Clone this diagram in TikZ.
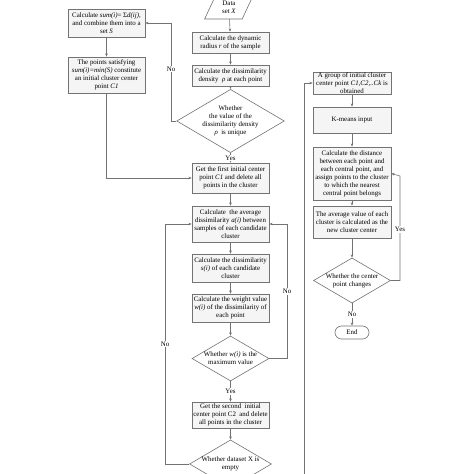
\documentclass[tikz,border=0pt]{standalone}
\usepackage{fontspec}
\setmainfont{Liberation Serif}
\usetikzlibrary{shapes.geometric,shapes.misc,arrows.meta,shadows}
\begin{document}
\begin{tikzpicture}[x=1pt,y=-1pt,
  font=\fontsize{6.9}{8}\selectfont,
  line/.style={draw=black!55, line width=0.6pt},
  arr/.style={line, -{Stealth[length=3.2pt,width=2.6pt]}},
  boxs/.style={rectangle, draw=black!55, line width=0.6pt, fill=black!4, align=center, inner sep=0.5pt,
    minimum width=77pt, drop shadow={shadow xshift=0.8pt, shadow yshift=-0.8pt, fill=black!30, opacity=0.6}},
  dia/.style={diamond, draw=black!55, line width=0.6pt, fill=white, align=center, inner sep=0pt, aspect=1.7,
    minimum width=77pt, minimum height=45pt},
  lab/.style={fill=white, inner sep=1pt}
]
\useasboundingbox (0,0) rectangle (474,474);
\begin{scope}
\clip (0,0) rectangle (474,474);
% data
\node[trapezium, trapezium left angle=65, trapezium right angle=115, draw=black!55, line width=0.6pt, fill=white,
  align=center, minimum width=34pt, minimum height=24pt, inner sep=0pt] (data) at (229,7) {Data\\ set \textit{X}};
% main column
\node[boxs, minimum height=21pt] (m1) at (230.5,42.5) {Calculate the dynamic\\ radius \textit{r} of the sample};
\node[boxs, minimum height=21pt] (m2) at (230.5,75.5) {Calculate the dissimilarity\\ density\ \ \textit{ρ} at each point};
\node[dia] (d1) at (230.5,121) {Whether\\ the value of the\\ dissimilarity density\\ \textit{ρ}\ \ is unique};
\node[boxs, minimum height=30pt] (m3) at (230.5,178) {Get the first initial center\\ point \textit{C1} and delete all\\ points in the cluster};
\node[boxs, minimum height=36pt] (m4) at (230.5,224) {Calculate\ \ the average\\ dissimilarity \textit{a(i)} between\\ samples of each candidate\\ cluster};
\node[boxs, minimum height=28pt] (m5) at (230.5,268) {Calculate the dissimilarity\\ \textit{s(i)} of each candidate\\ cluster};
\node[boxs, minimum height=28pt] (m6) at (230.5,308) {Calculate the weight value\\ \textit{w(i)} of the dissimilarity of\\ each point};
\node[dia] (d2) at (230.5,358.5) {Whether \textit{w(i)} is the\\ maximum value};
\node[boxs, minimum height=26pt] (m7) at (230.5,415) {Get the second\ \ initial\\ center point C2\ \ and delete\\ all points in the cluster};
\node[dia] (d3) at (230.5,464) {Whether dataset X is\\ empty};
% left column
\node[boxs, minimum height=28pt] (l1) at (106.5,23) {Calculate \textit{sum(i)}= Σ\textit{d(ij)},\\ and combine them into a\\ set \textit{S}};
\node[boxs, minimum height=36pt] (l2) at (106.5,75) {The points satisfying\\ \textit{sum(i)=min(S)} constitute\\ an initial cluster center\\ point \textit{C1}};
% right column
\node[boxs, minimum width=78pt, minimum height=22pt] (r1) at (352,83) {A group of initial cluster\\ center point \textit{C1,C2,..Ck} is\\ obtained};
\node[boxs, minimum width=78pt, minimum height=26pt] (r2) at (352,120) {K-means input};
\node[boxs, minimum width=78pt, minimum height=53pt] (r3) at (352,173.5) {Calculate the distance\\ between each point and\\ each central point, and\\ assign points to the cluster\\ to which the nearest\\ central point belongs};
\node[boxs, minimum width=78pt, minimum height=32pt] (r4) at (352,222) {The average value of each\\ cluster is calculated as the\\ new cluster center};
\node[dia] (rd) at (352,280.5) {Whether the center\\ point changes};
\node[rounded rectangle, draw=black!55, line width=0.6pt, fill=white, minimum width=36pt, minimum height=13pt, inner sep=1pt] (end) at (352,332.5) {End};
\coordinate (bot) at (304,480);
% main connectors
\draw[arr] (data) -- (m1);
\draw[arr] (m1) -- (m2);
\draw[arr] (m2) -- (d1);
\draw[arr] (d1) -- node[lab]{Yes} (m3);
\draw[arr] (d1.west) -- (171,121) -- node[lab, pos=0.53]{No} (171,23) -- (l1.east);
\draw[arr] (l1) -- (l2);
\draw[arr] (l2.south) -- (106.5,178) -- (m3.west);
\draw[arr] (m3) -- (m4);
\draw[arr] (m4) -- (m5);
\draw[arr] (m5) -- (m6);
\draw[arr] (m6) -- (d2);
\draw[arr] (d2) -- node[lab]{Yes} (m7);
\draw[arr] (m7) -- (d3);
\draw[arr] (d2.east) -- (287,358.5) -- node[lab, pos=0.5]{No} (287,224) -- (m4.east);
\draw[arr] (d3.west) -- (165,464) -- node[lab, pos=0.5]{No} (165,224) -- (m4.west);
% right connectors
\draw[arr] (bot) -- (304,83) -- (r1.west);
\draw[arr] (r1) -- (r2);
\draw[arr] (r2) -- (r3);
\draw[arr] (r3) -- (r4);
\draw[arr] (r4) -- (rd);
\draw[arr] (rd) -- node[lab]{No} (end);
\draw[arr] (rd.east) -- (400,280.5) -- node[lab, pos=0.49]{Yes} (400,176) -- (r3.east);
\end{scope}
\end{tikzpicture}
\end{document}
